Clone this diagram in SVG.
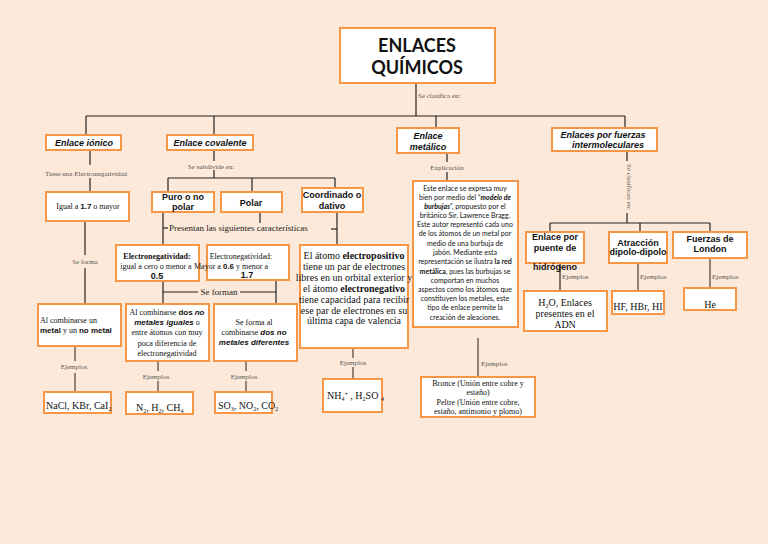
<svg xmlns="http://www.w3.org/2000/svg" width="768" height="544" viewBox="0 0 768 544">
<style>
.bx{fill:#fff;stroke:#F79646;stroke-width:2}
.ln{stroke:#222;stroke-width:1.2;fill:none}
.lg{stroke:#4a3d36;stroke-width:1.2;fill:none}
.lbl{font-family:"Liberation Serif",serif;font-size:7px;fill:#555}
.hd{font-family:"Liberation Sans",Arial,sans-serif;font-weight:bold;font-style:italic;font-size:9px;fill:#111;text-anchor:middle}
.sb{font-family:"Liberation Sans",Arial,sans-serif;font-weight:bold;font-size:9px;fill:#111;text-anchor:middle}
.sf{font-family:"Liberation Serif",serif;font-size:8px;fill:#111}
.sf10{font-family:"Liberation Serif",serif;font-size:10px;fill:#111;text-anchor:middle}
.cal{font-family:Lato,"Open Sans",sans-serif;font-size:7px;fill:#111;text-anchor:middle}
.b{font-weight:bold}
.bi{font-family:"Liberation Sans",Arial,sans-serif;font-weight:bold;font-style:italic}
.bs{font-family:"Liberation Sans",Arial,sans-serif;font-weight:bold}
</style>
<rect width="768" height="544" fill="#FDE9D9"/>

<g id="connectors">
<line class="ln" x1="416" y1="83" x2="416" y2="116"/>
<line class="ln" x1="86" y1="116" x2="625" y2="116"/>
<line class="ln" x1="86" y1="116" x2="86" y2="135"/>
<line class="ln" x1="214" y1="116" x2="214" y2="134"/>
<line class="ln" x1="436" y1="116" x2="436" y2="128"/>
<line class="ln" x1="625" y1="116" x2="625" y2="128"/>
<!-- ionico -->
<line class="ln" x1="90" y1="150" x2="90" y2="165"/>
<line class="ln" x1="90" y1="178" x2="90" y2="192"/>
<line class="ln" x1="85" y1="221" x2="85" y2="255"/>
<line class="ln" x1="85" y1="268" x2="85" y2="304"/>
<line class="lg" x1="75" y1="346" x2="75" y2="361"/>
<line class="lg" x1="75" y1="373" x2="75" y2="392"/>
<!-- covalente -->
<line class="ln" x1="214" y1="150" x2="214" y2="161"/>
<line class="ln" x1="214" y1="170" x2="214" y2="178"/>
<line class="ln" x1="168" y1="178" x2="335" y2="178"/>
<line class="ln" x1="168" y1="178" x2="168" y2="192"/>
<line class="ln" x1="252" y1="178" x2="252" y2="192"/>
<line class="ln" x1="335" y1="178" x2="335" y2="188"/>
<line class="ln" x1="163" y1="212" x2="163" y2="245"/>
<line class="ln" x1="163" y1="228" x2="168" y2="228"/>
<line class="ln" x1="260" y1="212" x2="260" y2="223"/>
<line class="ln" x1="337" y1="212" x2="337" y2="245"/>
<line class="ln" x1="331" y1="229" x2="337" y2="229"/>
<line class="ln" x1="163" y1="281" x2="163" y2="304"/>
<line class="ln" x1="276" y1="280" x2="276" y2="304"/>
<line class="ln" x1="163" y1="292" x2="198" y2="292"/>
<line class="ln" x1="240" y1="292" x2="276" y2="292"/>
<line class="lg" x1="158" y1="361" x2="158" y2="371"/>
<line class="lg" x1="158" y1="381" x2="158" y2="392"/>
<line class="lg" x1="246" y1="361" x2="246" y2="371"/>
<line class="lg" x1="246" y1="381" x2="246" y2="392"/>
<line class="lg" x1="353" y1="348" x2="353" y2="358"/>
<line class="lg" x1="353" y1="367" x2="353" y2="379"/>
<!-- metalico -->
<line class="ln" x1="447" y1="153" x2="447" y2="162"/>
<line class="ln" x1="447" y1="172" x2="447" y2="181"/>
<line class="lg" x1="478" y1="338" x2="478" y2="377"/>
<!-- intermoleculares -->
<line class="ln" x1="627" y1="151" x2="627" y2="161"/>
<line class="ln" x1="627" y1="213" x2="627" y2="223"/>
<line class="ln" x1="550" y1="223" x2="710" y2="223"/>
<line class="ln" x1="550" y1="223" x2="550" y2="232"/>
<line class="ln" x1="640" y1="223" x2="640" y2="232"/>
<line class="ln" x1="710" y1="223" x2="710" y2="232"/>
<line class="ln" x1="560" y1="263" x2="560" y2="291"/>
<line class="lg" x1="638" y1="263" x2="638" y2="291"/>
<line class="lg" x1="710" y1="258" x2="710" y2="288"/>

<text class="lbl" x="418" y="98">Se clasifica en:</text>
<text class="lbl" x="86" y="176" text-anchor="middle">Tiene una Electronegatividad</text>
<text class="lbl" x="85" y="264" text-anchor="middle">Se forma</text>
<text class="lbl" x="74" y="369" text-anchor="middle">Ejemplos</text>
<text class="lbl" x="211" y="169" text-anchor="middle">Se subdivide en:</text>
<text x="169" y="231" style="font-family:'Liberation Serif',serif;font-size:9px;fill:#222">Presentan las siguientes características</text>
<text x="219" y="295" text-anchor="middle" style="font-family:'Liberation Serif',serif;font-size:9px;fill:#222">Se forman</text>
<text class="lbl" x="156" y="379" text-anchor="middle">Ejemplos</text>
<text class="lbl" x="244" y="379" text-anchor="middle">Ejemplos</text>
<text class="lbl" x="353" y="365" text-anchor="middle">Ejemplos</text>
<text class="lbl" x="447" y="170" text-anchor="middle">Explicación</text>
<text class="lbl" x="481" y="366">Ejemplos</text>
<text class="lbl" x="627" y="187" text-anchor="middle" transform="rotate(90 627 187)">Se clasifican en:</text>
<text class="lbl" x="562" y="279">Ejemplos</text>
<text class="lbl" x="640" y="279">Ejemplos</text>
<text class="lbl" x="712" y="279">Ejemplos</text>
</g>

<g id="titulo">
<rect class="bx" x="340" y="28" width="155" height="55"/>
<text x="417" y="52" text-anchor="middle" style="font-family:Lato,'Open Sans',sans-serif;font-weight:bold;font-size:18px;fill:#111">ENLACES</text>
<text x="417" y="74" text-anchor="middle" style="font-family:Lato,'Open Sans',sans-serif;font-weight:bold;font-size:18px;fill:#111">QUÍMICOS</text>
</g>

<g id="ionico">
<rect class="bx" x="46" y="135" width="75" height="15"/>
<text class="hd" x="84" y="146">Enlace iónico</text>
</g>
<g id="igual17">
<rect class="bx" x="46" y="192" width="83" height="29"/>
<text class="sf" x="88" y="209" text-anchor="middle">Igual a <tspan class="bs">1.7</tspan> o mayor</text>
</g>
<g id="metalnometal">
<rect class="bx" x="38" y="304" width="83" height="42"/>
<text class="sf" x="40" y="323">Al combinarse un</text>
<text class="sf" x="40" y="333"><tspan class="bs">metal</tspan> y un <tspan class="bs">no metal</tspan></text>
</g>
<g id="nacl">
<rect class="bx" x="44" y="392" width="67" height="21"/>
<text x="46" y="409" style="font-family:'Liberation Serif',serif;font-size:10px;fill:#111">NaCl, KBr, CaI<tspan font-size="6" dy="2">2</tspan></text>
</g>

<g id="covalente">
<rect class="bx" x="167" y="135" width="86" height="15"/>
<text class="hd" x="210" y="146">Enlace covalente</text>
</g>
<g id="puro">
<rect class="bx" x="152" y="192" width="62" height="20"/>
<text class="sb" x="183" y="200">Puro o no</text>
<text class="sb" x="183" y="210">polar</text>
</g>
<g id="polar">
<rect class="bx" x="221" y="192" width="61" height="20"/>
<text class="sb" x="251" y="206">Polar</text>
</g>
<g id="coordinado">
<rect class="bx" x="302" y="188" width="61" height="24"/>
<text class="sb" x="332" y="198">Coordinado o</text>
<text class="sb" x="332" y="209">dativo</text>
</g>
<g id="electro05">
<rect class="bx" x="116" y="245" width="83" height="36"/>
<text class="sf" x="157" y="259" text-anchor="middle" font-weight="bold">Electronegatividad:</text>
<text class="sf" x="156" y="269" text-anchor="middle">igual a cero o menor a</text>
<text class="sb" x="157" y="279" font-size="8">0.5</text>
</g>
<g id="electro06">
<rect class="bx" x="207" y="245" width="82" height="35"/>
<text class="sf" x="241" y="259" text-anchor="middle" font-size="7" fill="#444">Electronegatividad:</text>
<text class="sf" x="231" y="269" text-anchor="middle" font-size="7" fill="#444">Mayor a <tspan class="bs" fill="#111">0.6</tspan> y menor a</text>
<text class="sb" x="247" y="278" font-size="7">1.7</text>
</g>
<g id="dosiguales">
<rect class="bx" x="126" y="304" width="83" height="57"/>
<text class="sf" x="167" y="315" text-anchor="middle">Al combinarse <tspan class="bs">dos</tspan> <tspan class="bi">no</tspan></text>
<text class="sf" x="167" y="325" text-anchor="middle"><tspan class="bi">metales iguales</tspan> o</text>
<text class="sf" x="167" y="335" text-anchor="middle">entre átomos con muy</text>
<text class="sf" x="167" y="346" text-anchor="middle">poca diferencia de</text>
<text class="sf" x="167" y="356" text-anchor="middle">electronegatividad</text>
</g>
<g id="diferentes">
<rect class="bx" x="214" y="304" width="83" height="57"/>
<text class="sf" x="254" y="325" text-anchor="middle">Se forma al</text>
<text class="sf" x="254" y="335" text-anchor="middle">combinarse <tspan class="bi">dos no</tspan></text>
<text class="sf" x="254" y="345" text-anchor="middle"><tspan class="bi">metales diferentes</tspan></text>
</g>
<g id="n2">
<rect class="bx" x="126" y="392" width="67" height="22"/>
<text x="136" y="411" style="font-family:'Liberation Serif',serif;font-size:10px;fill:#111">N<tspan font-size="6" dy="2">2</tspan><tspan dy="-2">, H</tspan><tspan font-size="6" dy="2">2</tspan><tspan dy="-2">, CH</tspan><tspan font-size="6" dy="2">4</tspan></text>
</g>
<g id="so3">
<rect class="bx" x="215" y="392" width="57" height="21"/>
<text x="218" y="409" style="font-family:'Liberation Serif',serif;font-size:10px;fill:#111">SO<tspan font-size="6" dy="2">3</tspan><tspan dy="-2">, NO</tspan><tspan font-size="6" dy="2">2</tspan><tspan dy="-2">, CO</tspan><tspan font-size="6" dy="2">2</tspan></text>
</g>
<g id="coordtexto">
<rect class="bx" x="300" y="245" width="108" height="103"/>
<text class="sf10" x="354" y="259">El átomo <tspan class="b">electropositivo</tspan></text>
<text class="sf10" x="354" y="270">tiene un par de electrones</text>
<text class="sf10" x="354" y="281">libres en un orbital exterior y</text>
<text class="sf10" x="354" y="292">el átomo <tspan class="b">electronegativo</tspan></text>
<text class="sf10" x="354" y="303">tiene capacidad para recibir</text>
<text class="sf10" x="354" y="314">ese par de electrones en su</text>
<text class="sf10" x="354" y="324">última capa de valencia</text>
</g>
<g id="nh4">
<rect class="bx" x="323" y="379" width="59" height="33"/>
<text x="327" y="399" style="font-family:'Liberation Serif',serif;font-size:10px;fill:#111">NH<tspan font-size="6" dy="2">4</tspan><tspan font-size="6" dy="-5">+</tspan><tspan dy="3"> , H</tspan><tspan font-size="6" dy="2">2</tspan><tspan dy="-2">SO </tspan><tspan font-size="6" dy="2">4</tspan></text>
</g>

<g id="metalico">
<rect class="bx" x="397" y="128" width="62" height="25"/>
<text class="hd" x="428" y="139">Enlace</text>
<text class="hd" x="428" y="150">metálico</text>
</g>
<g id="metalicotexto">
<rect class="bx" x="413" y="181" width="105" height="146"/>
<text class="cal" x="465" y="191">Este enlace se expresa muy</text>
<text class="cal" x="465" y="200">bien por medio del “<tspan font-weight="bold" font-style="italic">modelo de</tspan></text>
<text class="cal" x="465" y="209"><tspan font-weight="bold" font-style="italic">burbujas</tspan>”, propuesto por el</text>
<text class="cal" x="465" y="218">británico Sir. Lawrence Bragg.</text>
<text class="cal" x="465" y="227">Este autor representó cada uno</text>
<text class="cal" x="465" y="236">de los átomos de un metal por</text>
<text class="cal" x="465" y="246">medio de una burbuja de</text>
<text class="cal" x="465" y="255">jabón. Mediante esta</text>
<text class="cal" x="465" y="264">representación se ilustra <tspan font-weight="bold">la red</tspan></text>
<text class="cal" x="465" y="274"><tspan font-weight="bold">metálica</tspan>, pues las burbujas se</text>
<text class="cal" x="465" y="283">comportan en muchos</text>
<text class="cal" x="465" y="292">aspectos como los átomos que</text>
<text class="cal" x="465" y="301">constituyen los metales, este</text>
<text class="cal" x="465" y="310">tipo de enlace permite la</text>
<text class="cal" x="465" y="320">creación de aleaciones.</text>
</g>
<g id="bronce">
<rect class="bx" x="421" y="377" width="114" height="40"/>
<text class="sf" x="478" y="386" text-anchor="middle">Bronce (Unión entre cobre y</text>
<text class="sf" x="478" y="395" text-anchor="middle">estaño)</text>
<text class="sf" x="478" y="405" text-anchor="middle">Peltre (Unión entre cobre,</text>
<text class="sf" x="478" y="414" text-anchor="middle">estaño, antimonio y plomo)</text>
</g>

<g id="intermoleculares">
<rect class="bx" x="552" y="128" width="105" height="23"/>
<text class="hd" x="603" y="138">Enlaces por fuerzas</text>
<text class="hd" x="608" y="148">intermoleculares</text>
</g>
<g id="puentehidrogeno">
<rect class="bx" x="526" y="232" width="58" height="31"/>
<text class="sb" x="555" y="240" font-size="8.5">Enlace por</text>
<text class="sb" x="555" y="251" font-size="8.5">puente de</text>
<text class="sb" x="555" y="270" font-size="8.5">hidrógeno</text>
</g>
<g id="dipolo">
<rect class="bx" x="609" y="232" width="58" height="31"/>
<text class="sb" x="638" y="246" font-size="8.5">Atracción</text>
<text class="sb" x="638" y="255" font-size="8.5">dipolo-dipolo</text>
</g>
<g id="london">
<rect class="bx" x="673" y="232" width="74" height="26"/>
<text class="sb" x="710" y="242" font-size="8.5">Fuerzas de</text>
<text class="sb" x="710" y="252" font-size="8.5">London</text>
</g>
<g id="h2o">
<rect class="bx" x="524" y="291" width="83" height="40"/>
<text class="sf10" x="565" y="306">H<tspan font-size="6" dy="2">2</tspan><tspan dy="-2">O, Enlaces</tspan></text>
<text class="sf10" x="565" y="317">presentes en el</text>
<text class="sf10" x="565" y="328">ADN</text>
</g>
<g id="hf">
<rect class="bx" x="612" y="291" width="52" height="23"/>
<text class="sf10" x="638" y="310">HF, HBr, HI</text>
</g>
<g id="he">
<rect class="bx" x="684" y="288" width="52" height="22"/>
<text class="sf10" x="710" y="308">He</text>
</g>
</svg>
